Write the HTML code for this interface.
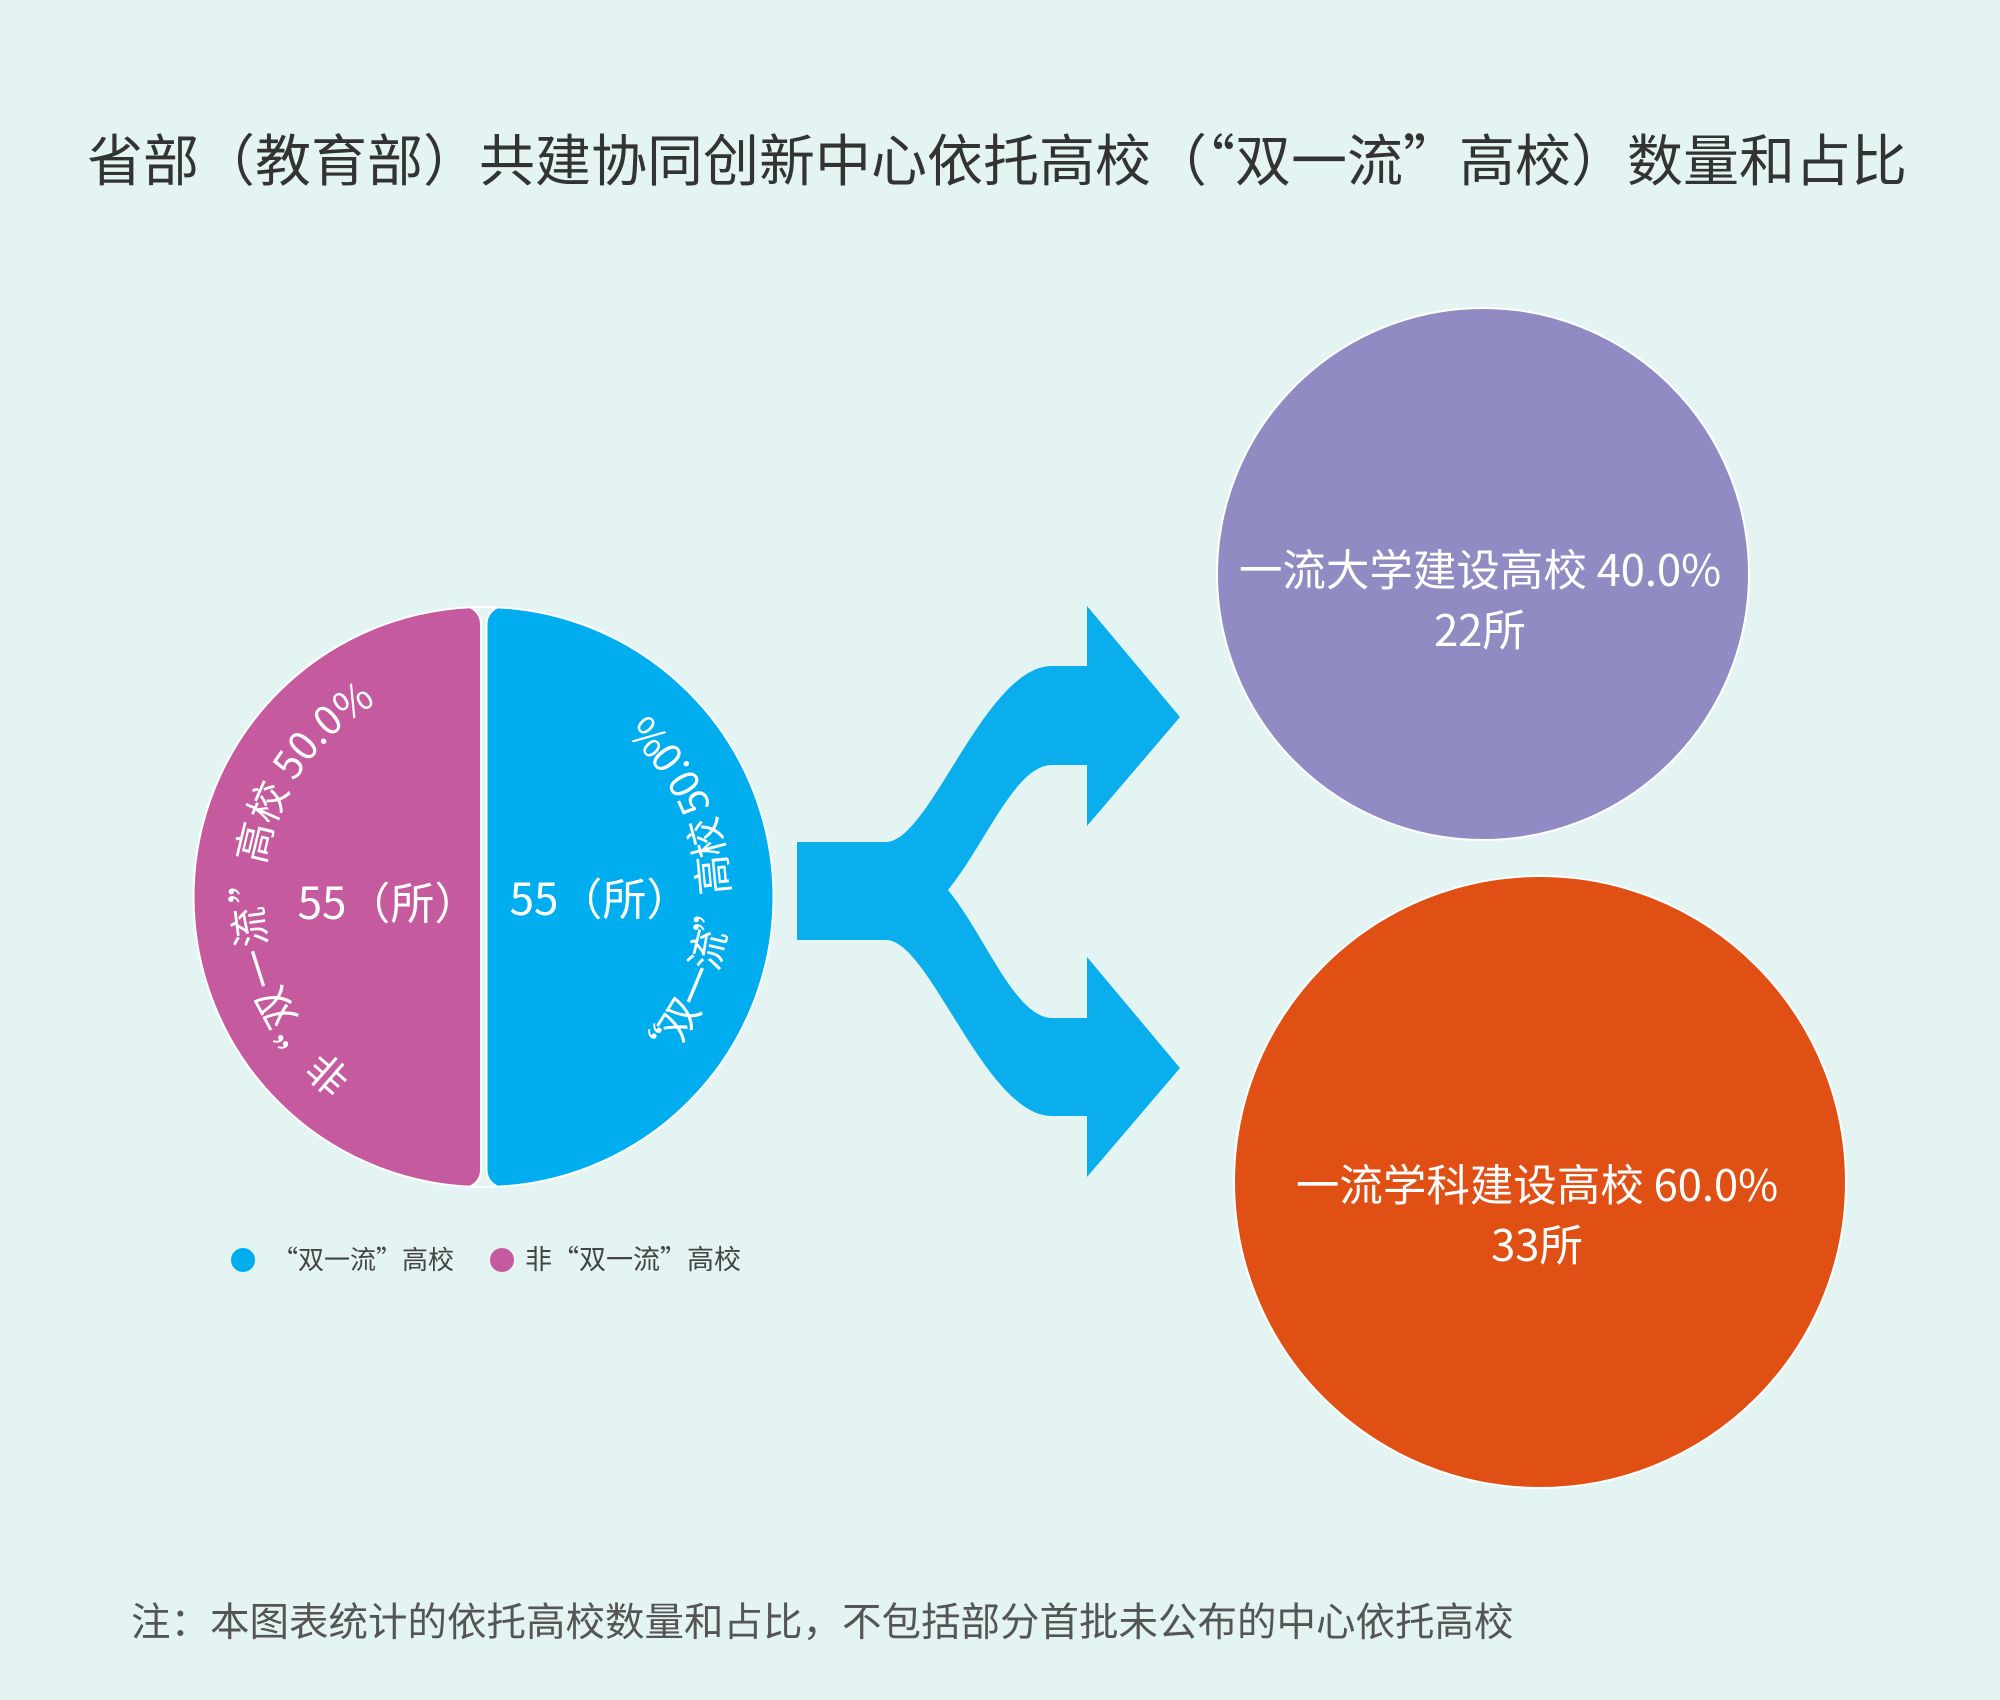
<!DOCTYPE html>
<html><head><meta charset="utf-8"><style>
html,body{margin:0;padding:0;background:#e4f4f3;}
svg{display:block;}
text{font-family:"Liberation Sans","Noto Sans CJK SC",sans-serif;}
.cjk{font-family:"Noto Sans CJK SC","Liberation Sans",sans-serif;}
</style></head><body>
<svg width="2000" height="1700" viewBox="0 0 2000 1700" xmlns="http://www.w3.org/2000/svg">
<rect width="2000" height="1700" fill="#e4f4f3"/>
<text x="997" y="181" text-anchor="middle" class="cjk" font-size="56" fill="#333">省部（教育部）共建协同创新中心依托高校（“双一流”高校）数量和占比</text>

<defs>
<clipPath id="pc"><circle cx="483.5" cy="897" r="290"/></clipPath>
<path id="lp" d="M353.5,1075.8 A221,221 0 0 1 445.1,679.4"/>
<path id="rp" d="M653.7,1073.2 A245,245 0 0 0 526,655.7"/>
</defs>
<g clip-path="url(#pc)">
<rect x="150" y="606" width="331" height="582" rx="18" fill="#c55a9e" stroke="#fff" stroke-width="2"/>
<rect x="486.5" y="606" width="330" height="582" rx="18" fill="#00aeef" stroke="#fff" stroke-width="2"/>
</g>
<circle cx="483.5" cy="897" r="290" fill="none" stroke="#fff" stroke-width="2"/>
<text class="cjk" font-size="40" fill="#fff"><textPath href="#lp">非“双一流”高校 50.0%</textPath></text>
<text class="cjk" font-size="40" fill="#fff"><textPath href="#rp">“双一流”高校 50.0%</textPath></text>
<text x="388" y="919" text-anchor="middle" class="cjk" font-size="44" fill="#fff">55（所）</text>
<text x="600" y="915" text-anchor="middle" class="cjk" font-size="44" fill="#fff">55（所）</text>

<path d="M797,842 L886,842 C930,842 985,666 1052,666 L1087,666 L1087,606 L1180,717 L1087,826 L1087,765 L1052,765 C1015,765 985,845 948,890 C985,935 1015,1018 1052,1018 L1087,1018 L1087,957 L1180,1068 L1087,1177 L1087,1116 L1052,1116 C985,1116 930,940 886,940 L797,940 Z" fill="#0aaeec"/>

<circle cx="1483" cy="574" r="266" fill="#908bc2" stroke="#fff" stroke-width="2"/>
<circle cx="1540" cy="1182" r="306" fill="#e04f14" stroke="#fff" stroke-width="2"/>
<text x="1480" y="586" text-anchor="middle" class="cjk" font-size="43.5" fill="#fff">一流大学建设高校 40.0%</text>
<text x="1480" y="646" text-anchor="middle" class="cjk" font-size="43.5" fill="#fff">22所</text>
<text x="1537" y="1201" text-anchor="middle" class="cjk" font-size="43.5" fill="#fff">一流学科建设高校 60.0%</text>
<text x="1537" y="1261" text-anchor="middle" class="cjk" font-size="43.5" fill="#fff">33所</text>

<circle cx="243" cy="1260" r="12" fill="#00aeef"/>
<text x="272" y="1269" class="cjk" font-size="26" fill="#444">“双一流”高校</text>
<circle cx="502" cy="1260" r="12" fill="#c55a9e"/>
<text x="525" y="1269" class="cjk" font-size="27" fill="#444">非“双一流”高校</text>

<text x="131" y="1636" class="cjk" font-size="39.5" fill="#555">注：本图表统计的依托高校数量和占比，不包括部分首批未公布的中心依托高校</text>
</svg>
</body></html>
